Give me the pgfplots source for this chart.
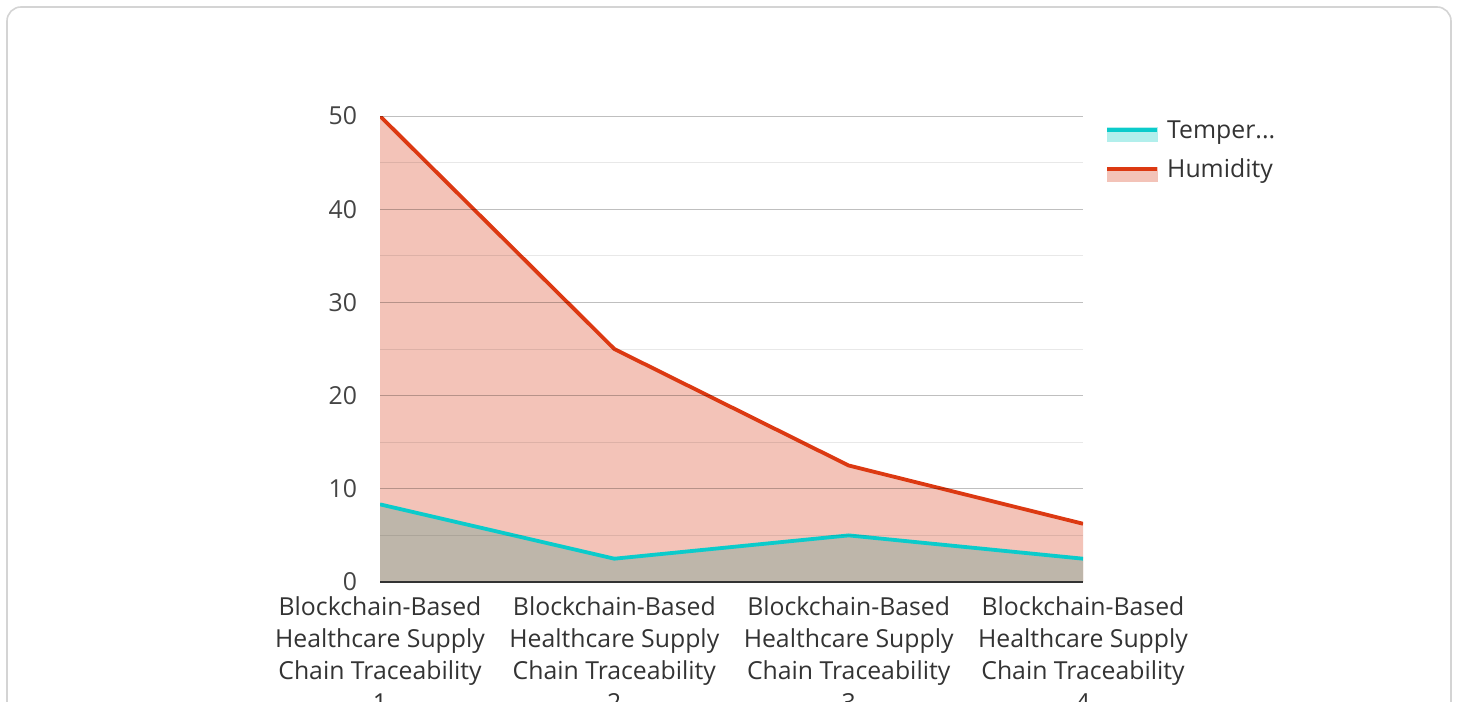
\documentclass[border=0pt]{standalone}
\usepackage{pgfplots}
\pgfplotsset{compat=1.18}
\usepackage{fontspec}
\setmainfont{Open Sans}
\definecolor{humline}{HTML}{DC3912}
\definecolor{humfill}{HTML}{F3C3B8}
\definecolor{templine}{HTML}{0BCBCB}
\definecolor{tempfill}{HTML}{B2EFEC}
\definecolor{overlap}{HTML}{BEB6AA}
\definecolor{framecol}{HTML}{D4D4D4}
\definecolor{labcol}{HTML}{444444}
\begin{document}
\begin{tikzpicture}[x=1pt,y=1pt]
\useasboundingbox (0,0) rectangle (729,351);
\draw[framecol, line width=0.8pt, rounded corners=7pt] (3.5,-12) rectangle (725.5,347.5);
\begin{axis}[
  at={(190pt,60pt)}, anchor=south west,
  scale only axis, width=351.5pt, height=233pt,
  xmin=1, xmax=4, ymin=0, ymax=50,
  xtick={1,2,3,4},
  xticklabels={{Blockchain-Based\\Healthcare Supply\\Chain Traceability\\1},
               {Blockchain-Based\\Healthcare Supply\\Chain Traceability\\2},
               {Blockchain-Based\\Healthcare Supply\\Chain Traceability\\3},
               {Blockchain-Based\\Healthcare Supply\\Chain Traceability\\4}},
  ytick={0,10,20,30,40,50},
  minor y tick num=1,
  ymajorgrids, yminorgrids,
  major grid style={black, opacity=0.25, line width=0.5pt},
  minor grid style={black, opacity=0.09, line width=0.5pt},
  major tick length=0, minor tick length=0,
  axis on top=true,
  axis x line*=bottom, axis y line*=left,
  x axis line style={draw=black!80, line width=1pt},
  y axis line style={draw=none},
  tick label style={font=\fontsize{12.4}{16}\selectfont, text=labcol},
  xticklabel style={align=center, yshift=-4pt, text=black!80},
  yticklabel style={xshift=-8pt},
  /pgf/number format/assume math mode=true,
  legend style={at={(axis description cs:1.031,1.0)}, anchor=north west, draw=none, fill=none,
     font=\fontsize{12.4}{14}\selectfont, text=black!80, row sep=5pt, inner sep=0pt,
     nodes={inner xsep=4pt}},
  legend cell align=left,
]
\addplot[fill=humfill, draw=none, forget plot] coordinates {(1,50) (2,25) (3,12.5) (4,6.25)} \closedcycle;
\addplot[fill=overlap, draw=none, forget plot] coordinates {(1,8.33) (2,2.5) (3,5) (4,2.5)} \closedcycle;
\addplot[humline, line width=1.9pt, forget plot] coordinates {(1,50) (2,25) (3,12.5) (4,6.25)};
\addplot[templine, line width=1.9pt, forget plot] coordinates {(1,8.33) (2,2.5) (3,5) (4,2.5)};
\addlegendimage{legend image code/.code={\fill[tempfill] (0pt,-5.5pt) rectangle (25pt,1.5pt); \draw[templine,line width=2pt] (0pt,0.5pt)--(25pt,0.5pt);}}
\addlegendentry{Temper...}
\addlegendimage{legend image code/.code={\fill[humfill] (0pt,-5.5pt) rectangle (25pt,1.5pt); \draw[humline,line width=2pt] (0pt,0.5pt)--(25pt,0.5pt);}}
\addlegendentry{Humidity}
\end{axis}
\end{tikzpicture}
\end{document}
